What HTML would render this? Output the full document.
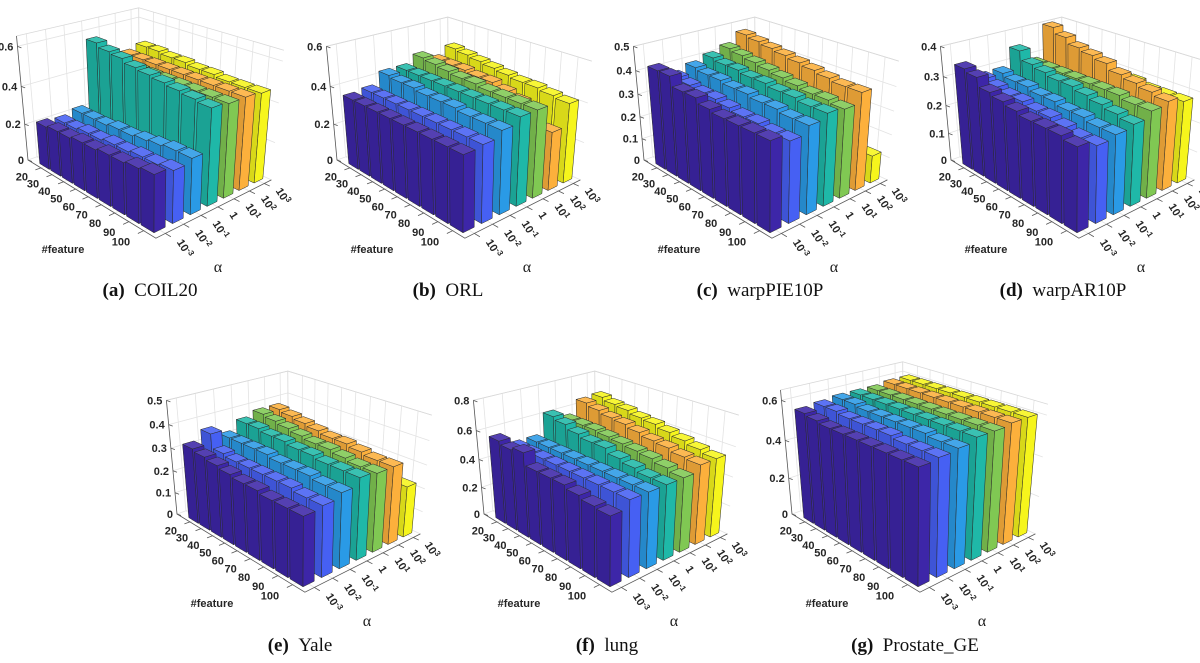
<!DOCTYPE html>
<html><head><meta charset="utf-8"><style>
html,body{margin:0;padding:0;background:#fff;}
svg{display:block;}
.tk{font-family:"Liberation Sans",sans-serif;font-size:11px;font-weight:bold;fill:#262626;}
.cap{font-family:"Liberation Serif",serif;font-size:19px;fill:#111;}
</style></head><body>
<svg id="fig" width="1200" height="663" viewBox="0 0 1200 663" xmlns="http://www.w3.org/2000/svg"></svg>
<script>
const featureLabels=["20","30","40","50","60","70","80","90","100"];
const alphaExp=["-3","-2","-1","0","1","2","3"];
const alphaColors=["#3d26a8","#4660f3","#2a9ae6","#1fb8a8","#80c853","#fcb03c","#f6f51c"];
const coilVals=[
[0.23,0.24,0.24,0.25,0.25,0.26,0.26,0.27,0.28],
[0.22,0.22,0.23,0.23,0.24,0.24,0.25,0.25,0.26],
[0.24,0.24,0.24,0.25,0.25,0.26,0.27,0.28,0.28],
[0.58,0.56,0.55,0.53,0.52,0.51,0.50,0.49,0.48],
[0.47,0.47,0.47,0.47,0.47,0.47,0.47,0.47,0.47],
[0.47,0.47,0.47,0.47,0.47,0.47,0.47,0.47,0.47],
[0.49,0.49,0.48,0.48,0.47,0.47,0.46,0.46,0.46]];
const orlVals=[
[0.37,0.37,0.37,0.37,0.37,0.37,0.37,0.37,0.37],
[0.38,0.38,0.38,0.38,0.38,0.38,0.38,0.38,0.38],
[0.44,0.43,0.43,0.42,0.42,0.42,0.41,0.41,0.41],
[0.44,0.44,0.44,0.44,0.44,0.44,0.44,0.44,0.44],
[0.48,0.47,0.46,0.45,0.45,0.44,0.44,0.44,0.44],
[0.44,0.44,0.44,0.43,0.43,0.41,0.39,0.35,0.30],
[0.48,0.47,0.46,0.45,0.44,0.43,0.43,0.42,0.41]];
const pieVals=[
[0.43,0.43,0.39,0.39,0.37,0.36,0.36,0.36,0.36],
[0.38,0.37,0.36,0.36,0.35,0.34,0.34,0.33,0.33],
[0.40,0.39,0.39,0.38,0.38,0.37,0.37,0.36,0.36],
[0.42,0.41,0.41,0.40,0.40,0.39,0.39,0.38,0.38],
[0.44,0.43,0.42,0.41,0.40,0.39,0.38,0.38,0.37],
[0.48,0.47,0.46,0.45,0.44,0.43,0.42,0.41,0.41],
[0.15,0.15,0.15,0.15,0.15,0.15,0.14,0.13,0.12]];
const arVals=[
[0.35,0.34,0.31,0.30,0.29,0.28,0.28,0.28,0.27],
[0.30,0.29,0.28,0.28,0.27,0.27,0.26,0.25,0.25],
[0.30,0.29,0.29,0.28,0.28,0.27,0.27,0.26,0.26],
[0.36,0.33,0.32,0.31,0.31,0.30,0.29,0.28,0.27],
[0.30,0.30,0.30,0.30,0.30,0.30,0.30,0.29,0.29],
[0.41,0.39,0.37,0.36,0.35,0.33,0.32,0.31,0.30],
[0.30,0.30,0.30,0.29,0.29,0.29,0.28,0.28,0.28]];
const yaleVals=[
[0.33,0.32,0.31,0.30,0.29,0.29,0.28,0.28,0.28],
[0.37,0.31,0.30,0.30,0.30,0.30,0.30,0.29,0.29],
[0.33,0.33,0.33,0.33,0.32,0.32,0.32,0.31,0.31],
[0.37,0.37,0.36,0.36,0.35,0.35,0.34,0.34,0.34],
[0.39,0.38,0.37,0.36,0.35,0.35,0.34,0.33,0.33],
[0.39,0.38,0.37,0.36,0.35,0.35,0.34,0.33,0.33],
[0.22,0.22,0.22,0.22,0.22,0.22,0.22,0.22,0.22]];
const lungVals=[
[0.58,0.56,0.58,0.50,0.50,0.50,0.48,0.46,0.45],
[0.50,0.50,0.50,0.50,0.50,0.50,0.50,0.50,0.50],
[0.50,0.50,0.50,0.50,0.50,0.50,0.50,0.50,0.50],
[0.64,0.62,0.59,0.57,0.57,0.54,0.52,0.50,0.50],
[0.58,0.58,0.58,0.57,0.56,0.55,0.54,0.52,0.50],
[0.67,0.65,0.63,0.62,0.60,0.58,0.57,0.55,0.54],
[0.68,0.66,0.65,0.63,0.62,0.60,0.58,0.56,0.54]];
const prostVals=[
[0.57,0.56,0.55,0.55,0.55,0.55,0.55,0.55,0.55],
[0.58,0.58,0.57,0.57,0.57,0.57,0.56,0.56,0.56],
[0.59,0.59,0.58,0.58,0.58,0.58,0.58,0.57,0.57],
[0.59,0.59,0.59,0.59,0.59,0.59,0.59,0.59,0.59],
[0.59,0.59,0.59,0.59,0.59,0.59,0.59,0.59,0.59],
[0.60,0.60,0.60,0.60,0.60,0.60,0.60,0.60,0.60],
[0.60,0.60,0.60,0.60,0.60,0.60,0.60,0.60,0.60]];
const zTicksA=["0","0.2","0.4","0.6"];
const zTicksC=["0","0.1","0.2","0.3","0.4","0.5"];
const zTicksD=["0","0.1","0.2","0.3","0.4"];
const zTicksF=["0","0.2","0.4","0.6","0.8"];

const panels=[
 {id:"coil20",letter:"(a)",name:"COIL20",vals:coilVals,ticks:zTicksA,zmax:0.65,cx:149,cy:171,capx:150,capy:304},
 {id:"orl",letter:"(b)",name:"ORL",vals:orlVals,ticks:zTicksA,zmax:0.6,cx:458,cy:171,capx:448,capy:304},
 {id:"warppie10p",letter:"(c)",name:"warpPIE10P",vals:pieVals,ticks:zTicksC,zmax:0.5,cx:765,cy:171,capx:760,capy:304},
 {id:"warpar10p",letter:"(d)",name:"warpAR10P",vals:arVals,ticks:zTicksD,zmax:0.4,cx:1072,cy:171,capx:1063,capy:304},
 {id:"yale",letter:"(e)",name:"Yale",vals:yaleVals,ticks:zTicksC,zmax:0.5,cx:298,cy:525,capx:300,capy:659},
 {id:"lung",letter:"(f)",name:"lung",vals:lungVals,ticks:zTicksF,zmax:0.8,cx:605,cy:525,capx:607,capy:659},
 {id:"prostate-ge",letter:"(g)",name:"Prostate_GE",vals:prostVals,ticks:zTicksA,zmax:0.65,cx:913,cy:525,capx:915,capy:659}
];

const NS="http://www.w3.org/2000/svg";
const PHI=42*Math.PI/180, EL=28*Math.PI/180;
const cp=Math.cos(PHI), sp=Math.sin(PHI), ce=Math.cos(EL), se=Math.sin(EL);
const DIST=35, FOC=683, ASC=1.12, WORLDH=6.2;
const FMIN=-0.2, FMAX=9.8, AMIN=0.5, AMAX=7.5;

function proj(p,a,f,z){
  const da=(a-4)*ASC, df=f-5, dz=z*p.K;
  const R=cp*da+sp*df;
  const U=ce*dz+se*(sp*da-cp*df);
  const D=DIST+ce*(sp*da-cp*df)-se*dz;
  return [p.cx+FOC*R/D, p.cy-FOC*U/D, D];
}
function mk(tag,attrs,parent){const e=document.createElementNS(NS,tag);for(const k in attrs)e.setAttribute(k,attrs[k]);parent.appendChild(e);return e;}
function pts(arr){return arr.map(q=>q[0].toFixed(1)+","+q[1].toFixed(1)).join(" ");}
function shade(hex,f){const n=parseInt(hex.slice(1),16);let r=n>>16,g=(n>>8)&255,b=n&255;
  if(f>=1){r=r+(255-r)*(f-1);g=g+(255-g)*(f-1);b=b+(255-b)*(f-1);}else{r*=f;g*=f;b*=f;}
  return "rgb("+Math.round(r)+","+Math.round(g)+","+Math.round(b)+")";}

const svg=document.getElementById("fig");
panels.forEach(p=>{
  const topTick=parseFloat(p.ticks[p.ticks.length-1]);
  p.K=WORLDH/topTick;
  const g=mk("g",{},svg);
  
  
  const grid=mk("g",{stroke:"#e3e3e3","stroke-width":"0.8",fill:"none"},g);
  
  
  const ztop=p.zmax;
  p.ticks.forEach(t=>{const z=parseFloat(t);
    mk("polyline",{points:pts([proj(p,AMIN,FMIN,z),proj(p,AMAX,FMIN,z),proj(p,AMAX,FMAX,z)])},grid);});
  for(let a=1;a<=7;a++){mk("polyline",{points:pts([proj(p,a,FMAX,0),proj(p,a,FMIN,0),proj(p,a,FMIN,ztop)])},grid);}
  for(let f=1;f<=9;f++){mk("polyline",{points:pts([proj(p,AMIN,f,0),proj(p,AMAX,f,0),proj(p,AMAX,f,ztop)])},grid);}
  mk("polyline",{points:pts([proj(p,AMIN,FMIN,ztop),proj(p,AMAX,FMIN,ztop),proj(p,AMAX,FMAX,ztop)]),stroke:"#d8d8d8"},grid);
  mk("line",{x1:proj(p,AMAX,FMIN,0)[0],y1:proj(p,AMAX,FMIN,0)[1],x2:proj(p,AMAX,FMIN,ztop)[0],y2:proj(p,AMAX,FMIN,ztop)[1],stroke:"#d8d8d8"},grid);
  const ax=mk("g",{stroke:"#555","stroke-width":"0.8",fill:"none"},g);
  
  
  mk("polyline",{points:pts([proj(p,AMIN,FMIN,ztop),proj(p,AMIN,FMIN,0),proj(p,AMIN,FMAX,0),proj(p,AMAX,FMAX,0)])},ax);
  p.ticks.forEach(t=>{const z=parseFloat(t);const q=proj(p,AMIN,FMIN,z);
    mk("line",{x1:q[0],y1:q[1],x2:q[0]+4,y2:q[1]+1.5},ax);
    const tx=mk("text",{x:(q[0]-4).toFixed(1),y:(q[1]+4).toFixed(1),"text-anchor":"end",class:"tk"},g);
    tx.textContent=t;
    
    });
  featureLabels.forEach((lab,i)=>{const f=i+1;const q=proj(p,AMIN,f,0),q2=proj(p,AMIN-0.3,f,0);
    mk("line",{x1:q[0],y1:q[1],x2:q2[0],y2:q2[1]},ax);
    const l=proj(p,AMIN-0.7,f,0);
    const tx=mk("text",{x:l[0].toFixed(1),y:(l[1]+8).toFixed(1),"text-anchor":"end",class:"tk","font-size":"12.5"},g);
    tx.textContent=lab;
    
    });
  alphaExp.forEach((ex,i)=>{const a=i+1;const q=proj(p,a,FMAX,0),q2=proj(p,a,FMAX+0.35,0);
    mk("line",{x1:q[0],y1:q[1],x2:q2[0],y2:q2[1]},ax);
    const l=proj(p,a,FMAX+0.7,0);
    const tx=mk("text",{x:0,y:0,class:"tk",transform:"translate("+l[0].toFixed(1)+","+(l[1]+2).toFixed(1)+") rotate(58)","font-size":"11.5"},g);
    
    
    if(ex==="0"){tx.textContent="1";}
    else{tx.textContent="10";const s=mk("tspan",{dy:"-4","font-size":"8"},tx);s.textContent=ex;}
  });
  const fl=mk("text",{x:p.cx-86,y:p.cy+82,"text-anchor":"middle",class:"tk","font-size":"16"},g);
  fl.textContent="#feature";
  
  
  const al=mk("text",{x:p.cx+69,y:p.cy+101,"text-anchor":"middle","font-family":"Liberation Serif, serif","font-size":"16",fill:"#222"},g);
  al.textContent="α";
  
  
  const bars=[];
  p.vals.forEach((row,ai)=>row.forEach((v,fi)=>{bars.push({a:ai+1,f:fi+1,v:v,ai:ai,d:proj(p,ai+1,fi+1,0)[2]});}));
  bars.sort((x,y)=>y.d-x.d);
  const bg=mk("g",{stroke:"#2a2a2a","stroke-width":"0.5","stroke-linejoin":"round"},g);
  
  
  const hA=0.3,hF=0.43;
  bars.forEach(b=>{
    const col=alphaColors[b.ai];
    const bar=mk("g",{},bg);
    
    
    const a0=b.a-hA,a1=b.a+hA,f0=b.f-hF,f1=b.f+hF,h=b.v;
    mk("polygon",{points:pts([proj(p,a0,f0,0),proj(p,a0,f1,0),proj(p,a0,f1,h),proj(p,a0,f0,h)]),fill:shade(col,0.88)},bar);
    mk("polygon",{points:pts([proj(p,a0,f1,0),proj(p,a1,f1,0),proj(p,a1,f1,h),proj(p,a0,f1,h)]),fill:col},bar);
    mk("polygon",{points:pts([proj(p,a0,f0,h),proj(p,a0,f1,h),proj(p,a1,f1,h),proj(p,a1,f0,h)]),fill:shade(col,1.12)},bar);
  });
  const cap=mk("text",{x:p.capx,y:p.capy-8,"text-anchor":"middle",class:"cap"},g);
  
  
  const b1=mk("tspan",{"font-weight":"bold"},cap);b1.textContent=p.letter;
  const b2=mk("tspan",{},cap);b2.textContent="\u2002"+p.name;
});
</script>
</body></html>
